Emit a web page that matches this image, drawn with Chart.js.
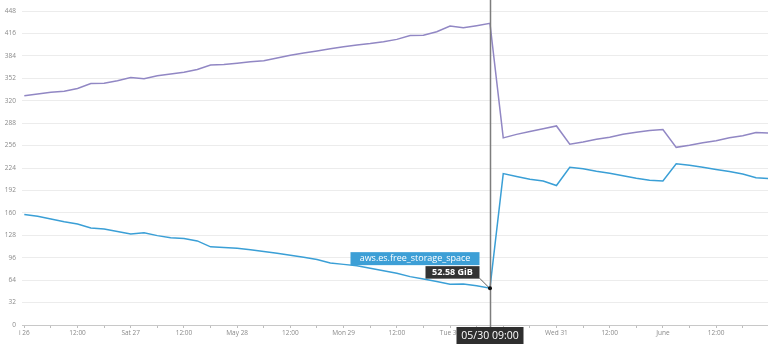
<!DOCTYPE html>
<html><head><meta charset="utf-8">
<script src="https://cdn.jsdelivr.net/npm/chart.js@4/dist/chart.umd.min.js"></script>
<style>html,body{margin:0;padding:0;background:#fff}#wrap{width:768px;height:344px;position:relative}canvas{display:block}</style>
</head><body><div id="wrap"><canvas id="c" width="768" height="344" style="width:768px;height:344px"></canvas></div>
<script>
// hours since May 26 00:00
const hours = [0,3,6,9,12,15,18,21,24,27,30,33,36,39,42,45,48,51,54,57,60,63,66,69,72,75,78,81,84,87,90,93,96,99,102,105,108,111,114,117,120,123,126,129,132,135,138,141,144,147,150,153,156,159,162,165,168];
const purpleSeries = [327,329.5,332,333.5,337.5,344.5,345,348.5,353,351.5,355.5,358,360.5,364.5,371,371.5,373.3,375.5,377,381,385,388,391,394,397,399.5,401.5,404,407.5,413,413.5,418.5,426.6,424,427,430.4,267,272,276,280,284,258,261,265,268,272,275,277.5,279,253.5,256.5,260,263,267,270,274.5,274];
const blueSeries = [157.5,155,151.2,147.2,144,138.5,137,133.5,130,131.5,127.5,124.5,123.5,120,111.5,110.5,109.5,107.5,104.8,102.5,99.5,96.5,93.5,88.5,86.5,84.5,81,77.5,73.8,69,65.6,62,58,58.5,56,52.58,216,212,208,205.4,199,225,223,219.5,216.5,213,209.5,206.5,205.5,230,228,225,222,219,215.5,210,209];
const tickHours = [0,6,12,18,24,30,36,42,48,54,60,66,72,78,84,90,96,102,108,114,120,126,132,138,144,150,156,162];
const tickLabels = {0:'i 26',12:'12:00',24:'Sat 27',36:'12:00',48:'May 28',60:'12:00',72:'Mon 29',84:'12:00',96:'Tue 30',108:'12:00',120:'Wed 31',132:'12:00',144:'June',156:'12:00'};
const yTicks = [0,32,64,96,128,160,192,224,256,288,320,352,384,416,448];
const cursorHour = 105;
const cursorLabel = '05/30 09:00';
const seriesName = 'aws.es.free_storage_space';
const cursorValue = 52.58;
const cursorValueLabel = '52.58 GiB';

const FONT = "'Open Sans', 'DejaVu Sans', sans-serif";

const overlay = {
  id: 'overlay',
  afterDraw(chart) {
    const ctx = chart.ctx;
    const xs = chart.scales.x, ys = chart.scales.y;
    const x = Math.round(xs.getPixelForValue(cursorHour)) + 0.5;
    const yv = ys.getPixelForValue(cursorValue);
    ctx.save();
    // crosshair
    ctx.strokeStyle = '#7d7d7d';
    ctx.lineWidth = 1.5;
    ctx.beginPath(); ctx.moveTo(x, 0); ctx.lineTo(x, 328); ctx.stroke();
    // leader line
    ctx.strokeStyle = '#333';
    ctx.lineWidth = 0.8;
    ctx.beginPath(); ctx.moveTo(x - 11, yv - 10); ctx.lineTo(x - 1, yv); ctx.stroke();
    // dot
    ctx.fillStyle = '#111';
    ctx.beginPath(); ctx.arc(x - 0.5, yv, 2, 0, Math.PI * 2); ctx.fill();
    // value box
    const right = x - 11;
    ctx.fillStyle = '#333';
    ctx.fillRect(right - 54, yv - 22, 54, 12.5);
    ctx.fillStyle = '#fff';
    ctx.font = "bold 9px " + FONT;
    ctx.textAlign = 'center'; ctx.textBaseline = 'middle';
    ctx.fillText(cursorValueLabel, right - 27, yv - 15.5);
    // name box
    ctx.fillStyle = '#3d9fd6';
    ctx.fillRect(right - 129, yv - 36, 129, 13);
    ctx.fillStyle = '#fff';
    ctx.font = "9px " + FONT;
    ctx.fillText(seriesName, right - 64.5, yv - 29.3);
    // bottom time tooltip
    ctx.fillStyle = '#2e2e2e';
    ctx.fillRect(x - 34, 327, 67, 17);
    ctx.fillStyle = '#fff';
    ctx.font = "10.5px " + FONT;
    ctx.fillText(cursorLabel, x - 0.5, 336);
    ctx.restore();
  }
};

new Chart(document.getElementById('c'), {
  type: 'line',
  data: {
    datasets: [
      { data: hours.map((h, i) => ({x: h, y: purpleSeries[i]})), borderColor: '#9187c4', borderWidth: 1.5, pointRadius: 0, tension: 0, fill: false },
      { data: hours.map((h, i) => ({x: h, y: blueSeries[i]})), borderColor: '#3a9fd6', borderWidth: 1.5, pointRadius: 0, tension: 0, fill: false }
    ]
  },
  options: {
    responsive: false,
    animation: false,
    devicePixelRatio: 1,
    layout: { padding: { top: 11, right: 0, bottom: 0, left: 0 } },
    plugins: { legend: { display: false }, tooltip: { enabled: false } },
    scales: {
      x: {
        type: 'linear',
        min: -0.52, max: 167.7,
        afterBuildTicks: s => { s.ticks = tickHours.map(v => ({value: v})); },
        afterFit: s => { s.height = 19; },
        ticks: {
          autoSkip: false, maxRotation: 0, minRotation: 0,
          color: '#8a8a8a', font: { family: FONT, size: 6.5 }, padding: 1,
          callback: v => tickLabels[v] || ''
        },
        grid: { display: true, drawOnChartArea: false, drawTicks: true, tickLength: 3, color: '#bdbdbd' },
        border: { display: true, color: '#c8c8c8', width: 1 }
      },
      y: {
        min: 0, max: 448,
        afterBuildTicks: s => { s.ticks = yTicks.map(v => ({value: v})); },
        afterFit: s => { s.width = 22; },
        ticks: { color: '#8a8a8a', font: { family: FONT, size: 6.5 }, padding: 6 },
        grid: { color: '#ececec', drawTicks: false, lineWidth: 1 },
        border: { display: false }
      }
    }
  },
  plugins: [overlay]
});
</script>
</body></html>
